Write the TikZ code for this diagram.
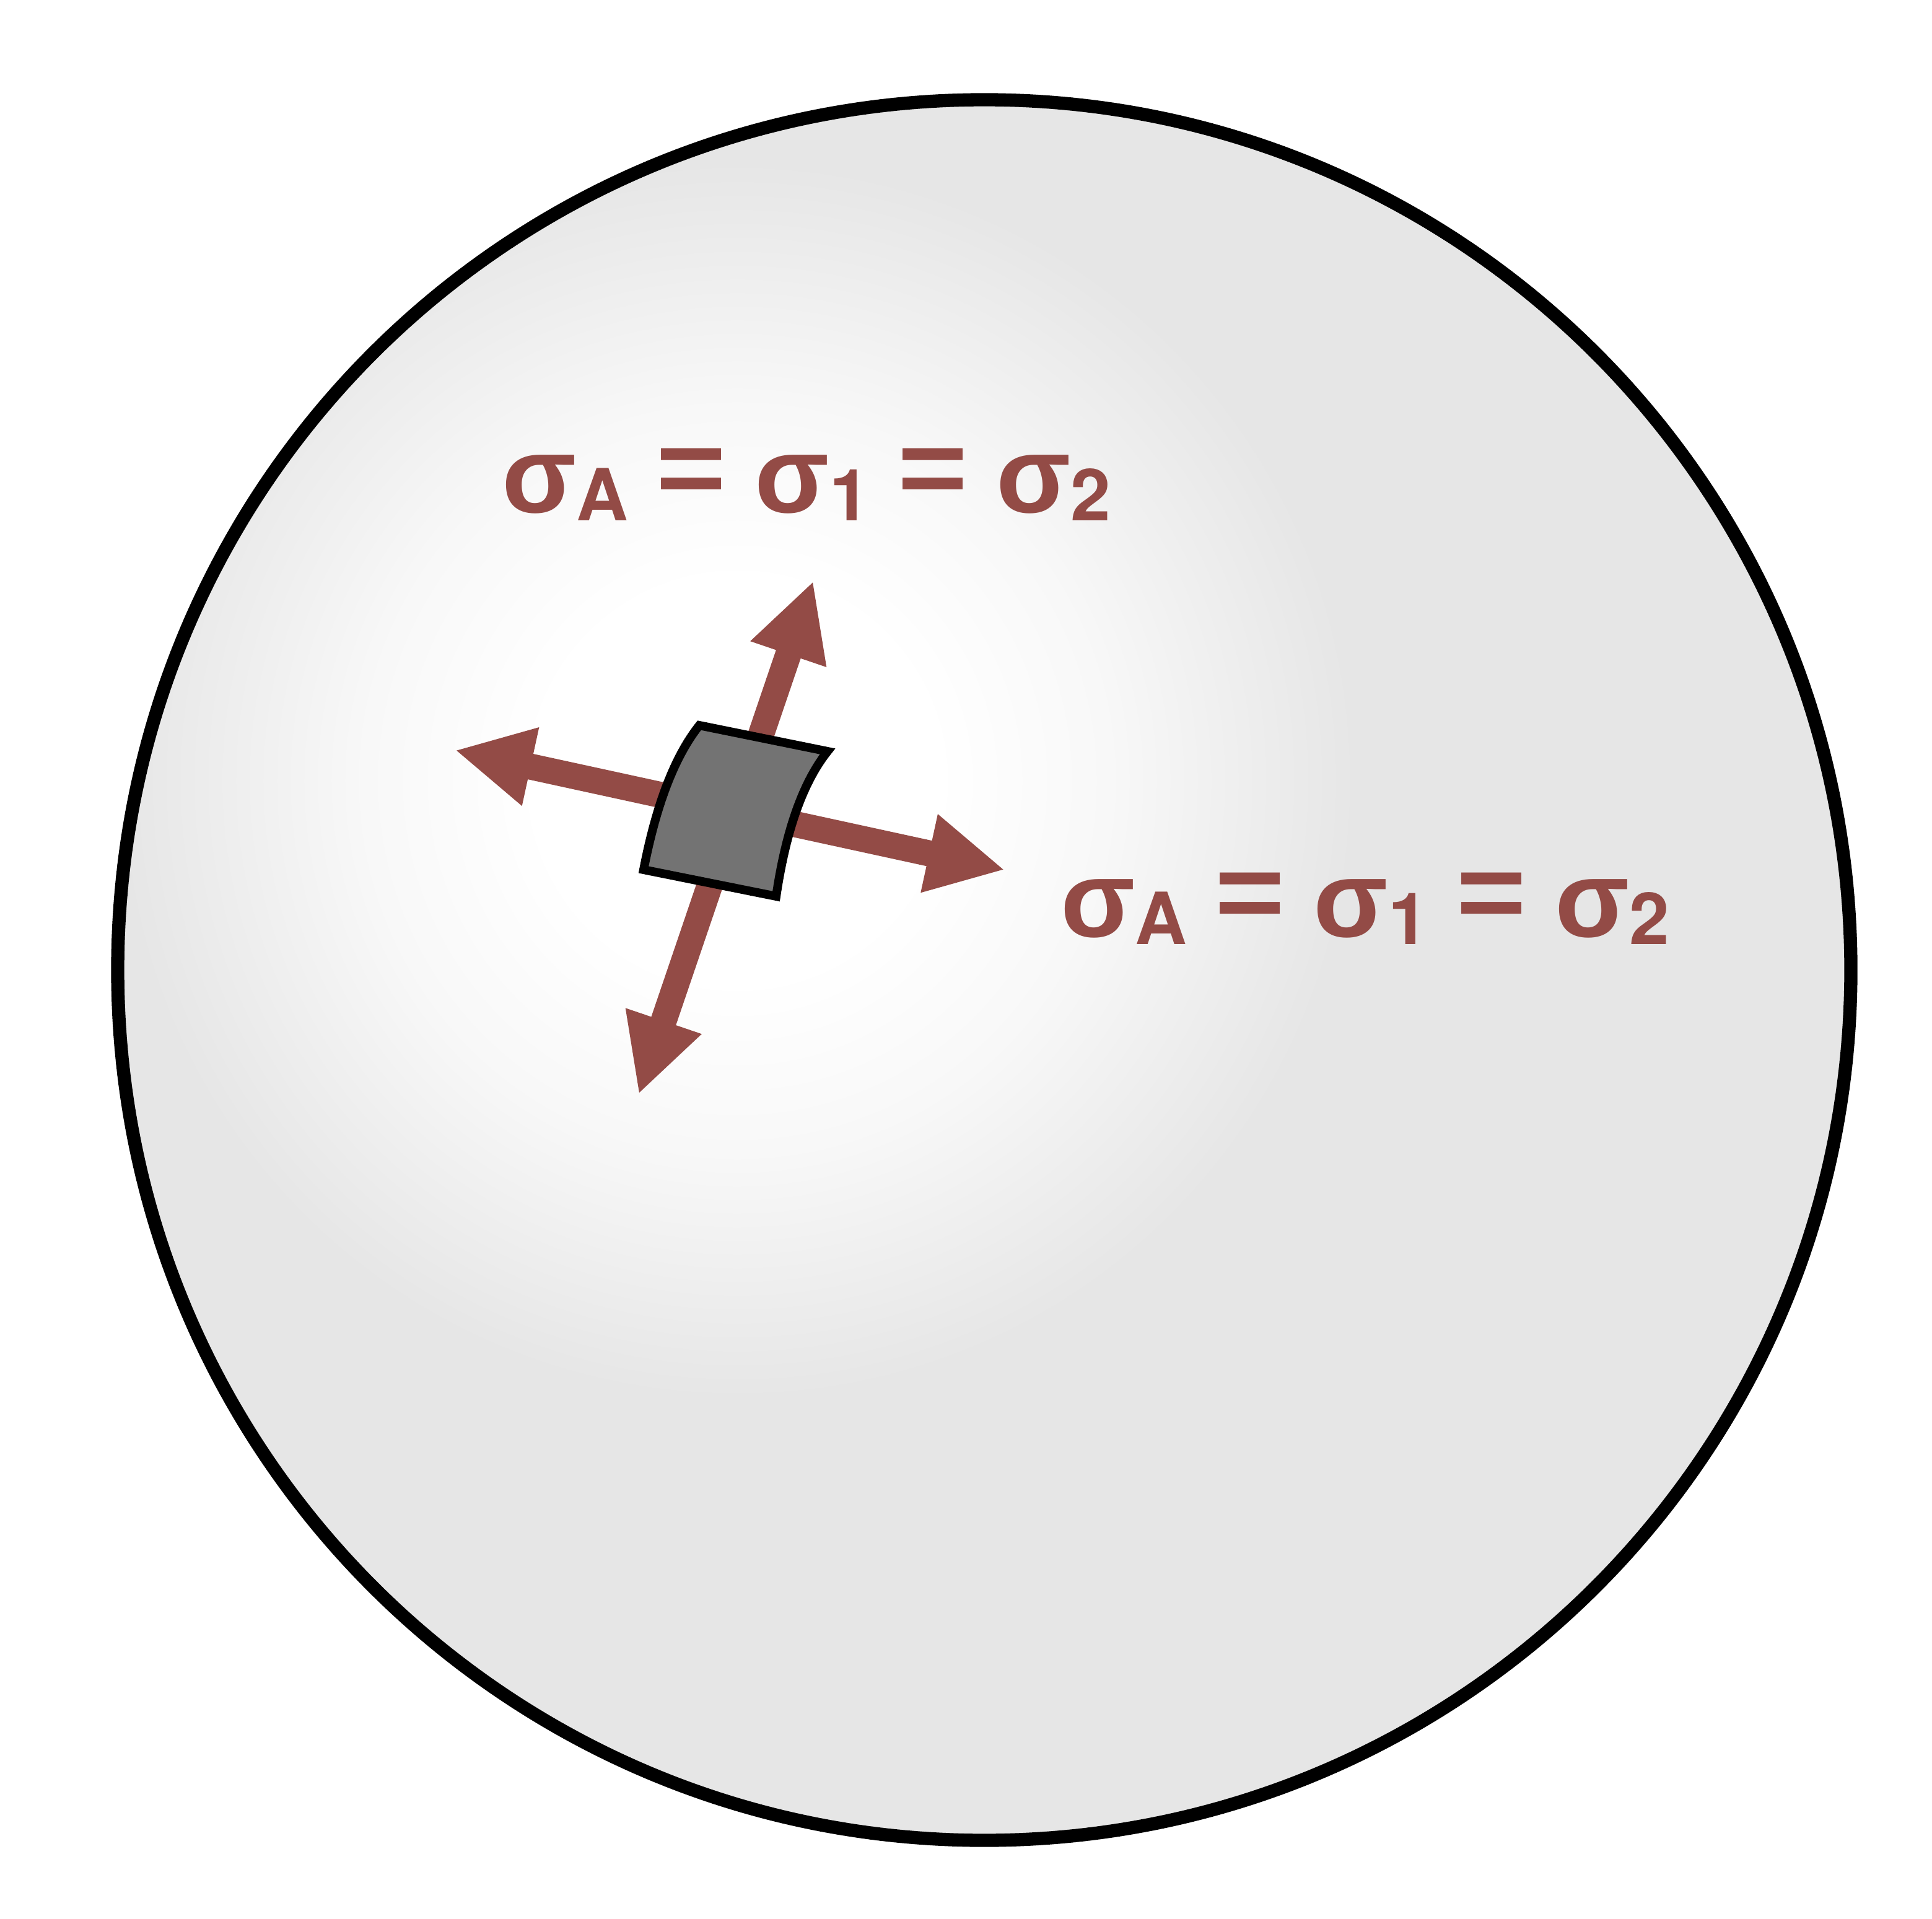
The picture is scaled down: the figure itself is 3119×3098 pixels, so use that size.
\documentclass[tikz,border=0pt]{standalone}
\usepackage{fontspec}
\setmainfont{Liberation Sans}
\newfontfamily\subfont{TeX Gyre Heros}
\usetikzlibrary{arrows.meta}
\definecolor{stress}{RGB}{147,75,70}
\definecolor{bodygray}{RGB}{230,230,230}
\definecolor{elemgray}{RGB}{115,115,115}
\definecolor{glowA}{RGB}{248,248,248}
\definecolor{glowB}{RGB}{238,238,238}
\pgfdeclareradialshading{glow}{\pgfpointorigin}{%
  color(0bp)=(white); color(8bp)=(white); color(15bp)=(glowA);
  color(20.5bp)=(glowB); color(25bp)=(bodygray); color(50bp)=(bodygray)}
\newcommand{\stsub}[1]{\raisebox{-0.12cm}{\subfont\fontsize{33pt}{40pt}\selectfont #1}}
\newcommand{\steq}{\hspace{-0.03cm}\raisebox{0.12cm}{\scalebox{1.1}[1]{=}}\hspace{-0.03cm}}
\newcommand{\stresseq}{σ\stsub{A} \steq{} σ\stsub{1} \steq{} σ\stsub{2}}
\tikzset{
  bodyline/.style={draw=black, line width=0.213cm},
  stressarrow/.style={draw=stress, line width=0.42cm,
    {Triangle[length=1.25cm,width=1.2cm]}-{Triangle[length=1.25cm,width=1.2cm]}},
  element/.style={draw=black, line width=0.14cm, fill=elemgray, line join=miter},
  stresslabel/.style={text=stress, font=\fontsize{50pt}{60pt}\selectfont\bfseries,
    anchor=base west, inner sep=0pt, outer sep=0pt}
}
\begin{document}
\begin{tikzpicture}[x=0.01cm, y=-0.01cm]
  \useasboundingbox (0,0) rectangle (3119,3098);
  \fill[white] (0,0) rectangle (3119,3098);
  % body of the sphere
  \fill[bodygray] (1589,1566) ellipse [x radius=1399, y radius=1405];
  \begin{scope}
    \clip (1589,1566) ellipse [x radius=1399, y radius=1405];
    \shade[shading=glow] (1190,1260) circle (1000);
  \end{scope}
  \draw[bodyline] (1589,1566) ellipse [x radius=1399, y radius=1405];
  % stress arrows
  \coordinate (sL) at (734.3,1211);
  \coordinate (sR) at (1622.3,1404.3);
  \coordinate (sT) at (1313,937.7);
  \coordinate (sB) at (1031,1766.7);
  \draw[stressarrow] (sL) -- (sR);
  \draw[stressarrow] (sT) -- (sB);
  % stress element
  \draw[element] (1129,1171) -- (1336,1213)
    .. controls (1296.4,1262.8) and (1268.7,1340.8) .. (1253,1447)
    -- (1039,1404)
    .. controls (1059.4,1298.5) and (1089.4,1220.8) .. cycle;
  % labels
  \node[stresslabel] (lab1) at (810,828) {\stresseq};
  \node[stresslabel] (lab2) at (1712,1512) {\stresseq};
\end{tikzpicture}
\end{document}
